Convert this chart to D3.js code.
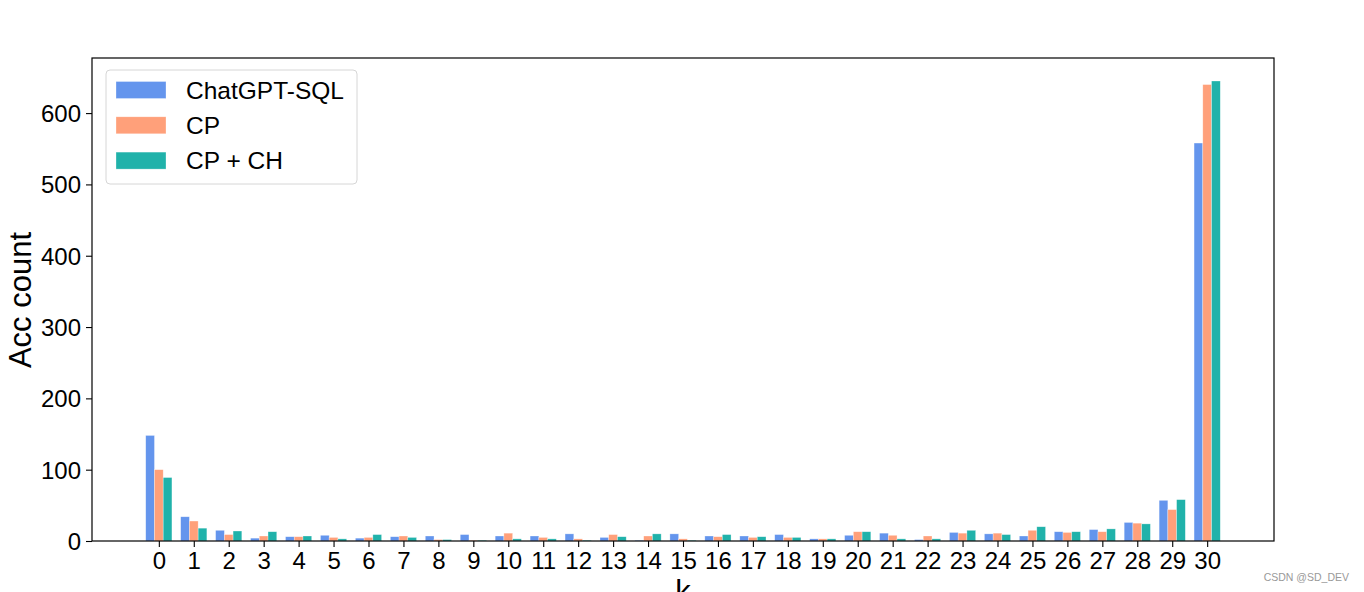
<!DOCTYPE html>
<html>
<head>
<meta charset="utf-8">
<script src="https://cdn.jsdelivr.net/npm/d3@7"></script>
<style>
  body { margin: 0; background: #fff; }
  svg { display: block; font-family: 'Liberation Sans', Arial, sans-serif; }
</style>
</head>
<body>
<div id="chart"></div>
<script>
// k values on the x axis
var ks = d3.range(0, 31)

// accuracy counts per k
var chatgptSql = [148, 34, 15, 4, 6, 8, 4, 6, 7, 9, 7, 7, 10, 5, 1, 10, 7, 7, 9, 3, 8, 11, 2, 12, 10, 7, 13, 16, 26, 57, 558]
var cp = [100, 28, 9, 7, 6, 5, 5, 7, 2, 1, 11, 5, 3, 9, 7, 3, 6, 5, 5, 3, 13, 8, 7, 11, 11, 15, 12, 13, 25, 44, 640]
var cpCh = [89, 18, 14, 13, 7, 3, 9, 5, 2, 1, 3, 3, 1, 6, 10, 1, 9, 6, 5, 3, 13, 3, 3, 15, 9, 20, 13, 17, 24, 58, 645]

var seriesNames = ['ChatGPT-SQL', 'CP', 'CP + CH']
var seriesColors = ['#6495ED', '#FFA07A', '#20B2AA']
var yTicks = [0, 100, 200, 300, 400, 500, 600]

var width = 1364, height = 592
var margin = { left: 92, right: 90, top: 58, bottom: 51 }
var barW = 0.25

var svg = d3.select('#chart')
  .append('svg')
  .attr('width', width)
  .attr('height', height)

var series = [chatgptSql, cp, cpCh]

// matplotlib style 5% margins around the bars
var xMin = -1.5 * barW, xMax = 30 + 1.5 * barW
var pad = (xMax - xMin) * 0.05
var x = d3.scaleLinear()
  .domain([xMin - pad, xMax + pad])
  .range([margin.left, width - margin.right])

var yMax = d3.max(series, function (s) { return d3.max(s) }) * 1.05
var y = d3.scaleLinear()
  .domain([0, yMax])
  .range([height - margin.bottom, margin.top])

// bars
series.forEach(function (vals, si) {
  svg.append('g')
    .selectAll('rect')
    .data(ks)
    .enter()
    .append('rect')
    .attr('x', function (k) { return x(k + (si - 1) * barW - barW / 2) })
    .attr('width', x(barW) - x(0))
    .attr('y', function (k) { return y(vals[k]) })
    .attr('height', function (k) { return y(0) - y(vals[k]) })
    .attr('fill', seriesColors[si])
    .attr('stroke', '#fff')
    .attr('stroke-opacity', 0.5)
    .attr('stroke-width', 0.6)
})

// axes
var xAxis = d3.axisBottom(x)
  .tickValues(ks)
  .tickFormat(d3.format('d'))
  .tickSizeInner(6)
  .tickSizeOuter(0)
  .tickPadding(5)
var yAxis = d3.axisLeft(y)
  .tickValues(yTicks)
  .tickSizeInner(6)
  .tickSizeOuter(0)
  .tickPadding(5)

var gx = svg.append('g')
  .attr('transform', 'translate(0,' + (height - margin.bottom) + ')')
  .call(xAxis)
var gy = svg.append('g')
  .attr('transform', 'translate(' + margin.left + ',0)')
  .call(yAxis)

;[gx, gy].forEach(function (g) {
  g.select('.domain').remove()
  g.selectAll('line').attr('stroke', '#000').attr('stroke-width', 1.1)
  g.selectAll('text')
    .attr('fill', '#000')
    .style('font-size', '24px')
    .style('font-family', "'Liberation Sans', Arial, sans-serif")
})
gy.selectAll('text').attr('dy', '0.35em')

// frame
svg.append('rect')
  .attr('x', margin.left)
  .attr('y', margin.top)
  .attr('width', width - margin.left - margin.right)
  .attr('height', height - margin.top - margin.bottom)
  .attr('fill', 'none')
  .attr('stroke', '#000')
  .attr('stroke-width', 1.2)

// axis titles
svg.append('text')
  .attr('transform', 'translate(31,300) rotate(-90)')
  .attr('text-anchor', 'middle')
  .style('font-size', '31px')
  .text('Acc count')
svg.append('text')
  .attr('x', (margin.left + width - margin.right) / 2)
  .attr('y', 602)
  .attr('text-anchor', 'middle')
  .style('font-size', '31px')
  .text('k')

// legend
var legend = svg.append('g').attr('transform', 'translate(106,70)')
legend.append('rect')
  .attr('width', 251)
  .attr('height', 114)
  .attr('rx', 4)
  .attr('fill', '#fff')
  .attr('fill-opacity', 0.8)
  .attr('stroke', '#d6d6d6')
  .attr('stroke-width', 1)
var rows = legend.selectAll('g.row')
  .data(seriesNames)
  .enter()
  .append('g')
  .attr('class', 'row')
  .attr('transform', function (d, i) { return 'translate(0,' + (20 + i * 35.3) + ')' })
rows.append('rect')
  .attr('x', 10)
  .attr('y', -8.5)
  .attr('width', 50)
  .attr('height', 17)
  .attr('fill', function (d, i) { return seriesColors[i] })
  .attr('stroke', '#fff')
  .attr('stroke-opacity', 0.5)
  .attr('stroke-width', 0.6)
rows.append('text')
  .attr('x', 80)
  .attr('dy', '0.35em')
  .style('font-size', '24.5px')
  .text(function (d) { return d })

// watermark
svg.append('text')
  .attr('x', 1349)
  .attr('y', 581)
  .attr('text-anchor', 'end')
  .attr('fill', '#999')
  .style('font-size', '10.5px')
  .text('CSDN @SD_DEV')
</script>
</body>
</html>
